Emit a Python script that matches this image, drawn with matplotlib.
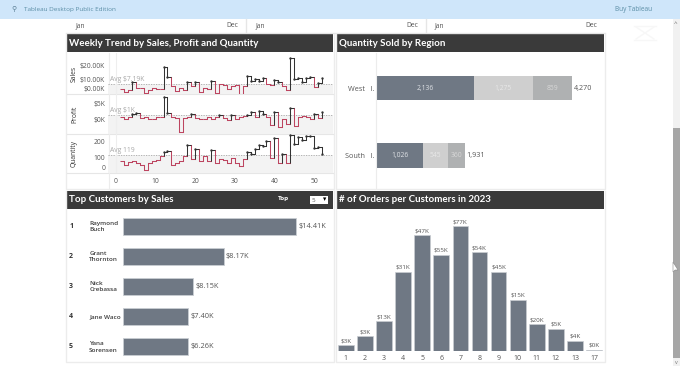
import matplotlib
matplotlib.use("Agg")
import matplotlib.pyplot as plt
from matplotlib.patches import Rectangle, Polygon

W, H = 680, 366
plt.rcParams['font.family'] = ['Open Sans', 'DejaVu Sans']

# ---- data ----
sales = [3.3, 1.7, 2.6, 8.8, 4.5, 4.0, 1.0, 2.6, 4.5, 3.3, 3.8, 19.3, 12.1, 5.7, 2.1, 4.0, 2.9, 8.8, 5.7, 8.8,
         1.7, 4.0, 3.3, 9.3, 1.0, 6.9, 6.4, 3.3, 5.7, 6.2, 0.3, 5.7, 13.1, 9.3, 10.5, 9.3, 11.2, 6.9, 6.4, 10.0,
         8.6, 5.7, 2.6, 26.0, 11.0, 11.7, 8.6, 11.7, 12.1, 5.0, 8.1, 11.2]
profit = [1.2, 0.4, 1.0, 2.2, 2.4, 0.7, 1.0, 0.4, 0.5, 1.0, 1.0, 7.3, 2.4, 1.2, 0.7, -3.4, 0.7, 1.0, 1.9, 0.7,
          0.4, 0.6, 1.0, 0.4, 1.2, 1.7, 0.7, 0.2, 1.7, 0.4, 1.2, 1.5, 1.7, 2.8, 1.0, 3.0, 2.2, 1.2, -1.3, 2.8,
          -1.8, 0.4, -1.0, 3.8, -1.6, 1.0, 1.4, 1.2, 0.4, 2.0, 0.7, 2.8]
quantity = [78, 53, 73, 80, 69, 53, 20, 69, 82, 87, 113, 140, 147, 53, 69, 80, 113, 187, 91, 158,
            80, 113, 78, 153, 69, 96, 87, 69, 102, 69, 47, 96, 140, 124, 158, 184, 180, 213, 102, 236,
            69, 124, 69, 251, 191, 242, 220, 247, 247, 164, 176, 124]
averages = [7.19, 1.6, 119]
avg_labels = ['Avg $7.19K', 'Avg $1K', 'Avg 119']
trend_titles = ['Sales', 'Profit', 'Quantity']
trend_ticks = [[0, 10, 20], [0, 5], [0, 100, 200]]
trend_ticklabels = [['$0.00K', '$10.00K', '$20.00K'], ['$0K', '$5K'], ['0', '100', '200']]
trend_ylims = [(0, 29.3), (-4.05, 8.15), (0, 260)]
week_ticks = [0, 10, 20, 30, 40, 50]

regions = ['West', 'South']
seg1 = [2136, 1026]
seg2 = [1275, 545]
seg3 = [859, 360]
seg1_labels = ['2,136', '1,026']
seg2_labels = ['1,275', '545']
seg3_labels = ['859', '360']
totals = ['4,270', '1,931']

cust_ranks = ['1', '2', '3', '4', '5']
cust_names = ['Raymond\nBuch', 'Grant\nThornton', 'Nick\nCrebassa', 'Jane Waco', 'Yana\nSorensen']
cust_sales = [14.41, 8.37, 5.85, 5.43, 5.43]
cust_labels = ['$14.41K', '$8.17K', '$8.15K', '$7.40K', '$6.26K']

orders = ['1', '2', '3', '4', '5', '6', '7', '8', '9', '10', '11', '12', '13', '17']
order_vals = [3.3, 8.9, 18.2, 49, 71.5, 59.3, 77, 60.9, 49, 31.4, 16.3, 13.6, 6.2, 0.6]
order_labels = ['$3K', '$3K', '$13K', '$31K', '$47K', '$55K', '$77K', '$54K', '$45K', '$15K', '$20K', '$5K', '$4K', '$0K']

strip_labels = [(76, 'Jan'), (226, 'Dec'), (256, 'Jan'), (406, 'Dec'), (435, 'Jan'), (585, 'Dec')]

# ---- colours ----
DARK = '#3a3a3a'
BAR = '#6f7884'
BAR_EDGE = '#c9cdd2'
LIGHT = '#cfcfcf'
MID = '#afb1b2'
TXT = '#555555'
RED = '#bd4560'
BLK = '#333333'
SHADE = '#f3f3f3'
GRID = '#e6e6e6'

fig = plt.figure(figsize=(W / 100, H / 100), dpi=100, facecolor='white')


def px_axes(x0, y0, x1, y1, **kw):
    ax = fig.add_axes([x0 / W, 1 - y1 / H, (x1 - x0) / W, (y1 - y0) / H], **kw)
    return ax


page = px_axes(0, 0, W, H)
page.set_xlim(0, W)
page.set_ylim(H, 0)
page.axis('off')


def box(x0, y0, x1, y1, **kw):
    page.add_patch(Rectangle((x0, y0), x1 - x0, y1 - y0, **kw))


box(0, 0, W, 19, fc='#cfe6fa', ec='none')
page.text(11, 9.5, '⚲', fontsize=5, color='#5b7f95', va='center', ha='left')
page.text(24, 9.5, 'Tableau Desktop Public Edition', fontsize=4.6, color='#5b8ea6', va='center')
page.text(615, 9.5, 'Buy Tableau', fontsize=4.7, color='#5b8ea6', va='center')
box(672.5, 19, 680, H, fc='#f1f1f1', ec='none')
box(672.5, 128, 680, 358, fc='#a6a6a6', ec='none')
page.text(676, 23.5, '^', fontsize=4.5, color='#666666', ha='center', va='center')
page.text(676, 362.5, 'v', fontsize=4, color='#777777', ha='center', va='center')
page.add_patch(Polygon([(673, 262), (673, 272), (675, 270), (678, 270)], closed=True, fc='white', ec='#888888', lw=0.4))
for pts in ([(634, 26), (656, 26)], [(634, 40), (656, 40)], [(636, 27), (654, 39)], [(654, 27), (636, 39)]):
    page.plot(*zip(*pts), color='#f7f7f7', lw=1)

for x, s in strip_labels:
    page.text(x, 25.5, s, fontsize=4.9, color=TXT, va='center')
for x in (245.5, 425.5):
    page.plot([x, x], [19, 32], color=GRID, lw=1)
page.plot([66, 605], [32.5, 32.5], color=GRID, lw=1)

for (x0, y0, x1, y1, title) in [
        (67, 34, 333, 52, 'Weekly Trend by Sales, Profit and Quantity'),
        (337, 34, 604, 52, 'Quantity Sold by Region'),
        (67, 191, 333, 209, 'Top Customers by Sales'),
        (337, 191, 604, 209, '# of Orders per Customers in 2023')]:
    box(x0, y0, x1, y1, fc=DARK, ec='none')
    page.text(x0 + 2, (y0 + y1) / 2, title, fontsize=7.05, fontweight='bold', color='white', va='center',
              family=['Lato', 'DejaVu Sans'])
    bottom = 189 if y0 == 34 else 362
    page.plot([x0 - 1, x0 - 1, x1 + 1, x1 + 1], [y0, bottom, bottom, y0], color='#ececec', lw=1)

page.text(278, 198.5, 'Top', fontsize=4.6, fontweight='bold', color='white', va='center')
box(310, 196, 328, 204, fc='white', ec='none')
page.text(312, 200, '5', fontsize=4.5, color=TXT, va='center')
page.text(325, 200, '▾', fontsize=4.8, color='black', va='center', ha='center')

# ---- weekly trend ----
series = [sales, profit, quantity]
trend_y = [(53, 94), (94, 134), (134, 173)]
label_dy = [[2.9, 0, 0], [0, 0], [2.9, 0, 0]]
for k, (vals, (y0, y1)) in enumerate(zip(series, trend_y)):
    ax = px_axes(108.5, y0, 333, y1)
    ax.set_xlim((108.5 - 116) / 3.96, (333 - 116) / 3.96)
    ax.set_ylim(*trend_ylims[k])
    avg = averages[k]
    ax.axhspan(trend_ylims[k][0], avg, color=SHADE, lw=0, zorder=0)
    ax.axhline(avg, color='#a8a8a8', lw=0.6, ls=(0, (1.5, 1.5)), zorder=1)
    ax.axvline(0, color='#eeeeee', lw=0.8, zorder=1)
    weeks = list(range(1, len(vals) + 1))
    for i, (w, v) in enumerate(zip(weeks, vals)):
        c = BLK if v > avg else RED
        if i + 1 < len(vals):
            ax.plot([w, w + 1], [v, v], color=c, lw=0.75, solid_capstyle='butt', zorder=3)
        if i > 0:
            ax.plot([w, w], [vals[i - 1], v], color=c, lw=0.75, zorder=2)
        if v > avg:
            ax.plot([w], [v], 'o', ms=1.7, color=BLK, mew=0, zorder=4)
    for s in ax.spines.values():
        s.set_visible(False)
    ax.set_xticks([])
    ax.set_yticks([])
    ax.patch.set_alpha(0)
    for t, lab, dy in zip(trend_ticks[k], trend_ticklabels[k], label_dy[k]):
        ax.annotate(lab, (0, t), xycoords=('axes fraction', 'data'), xytext=(-2.5, dy),
                    textcoords='offset points', ha='right', va='center', fontsize=4.9, color=TXT)
    ax.annotate(avg_labels[k], (0, avg), xycoords=('axes fraction', 'data'), xytext=(1, 1),
                textcoords='offset points', ha='left', va='bottom', fontsize=4.9, color='#a8a8a8', zorder=5)
    page.text(74.5, (y0 + y1) / 2, trend_titles[k], rotation=90, fontsize=4.9, color='#333333', ha='center', va='center')
    page.plot([67, 333], [y1, y1], color=GRID, lw=0.8)
page.plot([108.5, 108.5], [53, 189], color='#ececec', lw=0.8)

ax_w = px_axes(108.5, 173, 333, 189)
ax_w.set_xlim((108.5 - 116) / 3.96, (333 - 116) / 3.96)
ax_w.set_ylim(0, 1)
ax_w.patch.set_alpha(0)
for s in ax_w.spines.values():
    s.set_visible(False)
ax_w.set_yticks([])
ax_w.set_xticks(week_ticks)
ax_w.set_xticklabels([str(t) for t in week_ticks], fontsize=4.9, color=TXT)
ax_w.tick_params(axis='x', length=0, pad=-8)

# ---- region ----
ax_r = px_axes(376, 53, 604, 189)
ax_r.set_xlim(0, 228 / 0.0459)
ax_r.set_ylim(1.496, -0.519)
ax_r.patch.set_alpha(0)
for s in ('top', 'right', 'bottom'):
    ax_r.spines[s].set_visible(False)
ax_r.spines['left'].set_color('#ececec')
ax_r.set_xticks([])
ypos = [0, 1]
h = 0.36
ax_r.barh(ypos, seg1, height=h, color=BAR, lw=0)
ax_r.barh(ypos, seg2, left=seg1, height=h, color=LIGHT, lw=0)
lefts3 = [a + b for a, b in zip(seg1, seg2)]
ax_r.barh(ypos, seg3, left=lefts3, height=h, color=MID, lw=0)
for i, y in enumerate(ypos):
    ax_r.text(seg1[i] / 2, y, seg1_labels[i], color='#dfe2e6', fontsize=4.9, ha='center', va='center')
    ax_r.text(seg1[i] + seg2[i] / 2, y, seg2_labels[i], color='#e8e8e8', fontsize=4.9, ha='center', va='center')
    ax_r.text(lefts3[i] + seg3[i] / 2, y, seg3_labels[i], color='#d8d8d8', fontsize=4.9, ha='center', va='center')
    ax_r.annotate(totals[i], (lefts3[i] + seg3[i], y), xytext=(1.5, 0), textcoords='offset points',
                  fontsize=5.2, color=TXT, va='center', ha='left')
ax_r.set_yticks(ypos)
ax_r.set_yticklabels([f'{r}   l.' for r in regions], fontsize=5.2, color=TXT)
ax_r.tick_params(axis='y', length=0, pad=1.5)

# ---- customers ----
ax_c = px_axes(122.5, 209, 333, 362)
ax_c.set_xlim(0, 210.5 / 12.07)
ax_c.set_ylim(4.505, -0.575)
ax_c.patch.set_alpha(0)
for s in ax_c.spines.values():
    s.set_visible(False)
ax_c.set_xticks([])
ax_c.set_yticks([])
cy = list(range(len(cust_sales)))
ax_c.barh(cy, cust_sales, height=0.565, color=BAR, edgecolor=BAR_EDGE, lw=0.6)
for i, y in enumerate(cy):
    ax_c.annotate(cust_labels[i], (cust_sales[i], y), xytext=(1.5, 0), textcoords='offset points',
                  fontsize=5.3, color=TXT, va='center', ha='left')
    ax_c.annotate(cust_ranks[i], (0, y), xycoords=('axes fraction', 'data'), xytext=(-37, 0),
                  textcoords='offset points', fontsize=5, fontweight='bold', color='#333333', va='center', ha='center')
    ax_c.annotate(cust_names[i], (0, y), xycoords=('axes fraction', 'data'), xytext=(-24, 0),
                  textcoords='offset points', fontsize=4.6, fontweight='semibold', color='#3d3d3d', va='center',
                  ha='left', linespacing=1.4)

# ---- orders ----
ax_o = px_axes(337, 209, 604, 350.7)
ax_o.set_xlim(-0.46, 13.52)
ax_o.set_ylim(0, 141.7 / (373 / 3 / 77))
ax_o.patch.set_alpha(0)
for s in ax_o.spines.values():
    s.set_visible(False)
ax_o.set_yticks([])
ox = list(range(len(orders)))
ax_o.bar(ox, order_vals, width=0.82, color=BAR, edgecolor=BAR_EDGE, lw=0.5)
for x, v, lab in zip(ox, order_vals, order_labels):
    ax_o.annotate(lab, (x, v), xytext=(0, 1.5), textcoords='offset points', fontsize=4.5, color=TXT,
                  ha='center', va='bottom')
ax_o.set_xticks(ox)
ax_o.set_xticklabels(orders, fontsize=5, color=TXT)
ax_o.tick_params(axis='x', length=0, pad=3)

fig.savefig('out.png', dpi=100, facecolor='white')
